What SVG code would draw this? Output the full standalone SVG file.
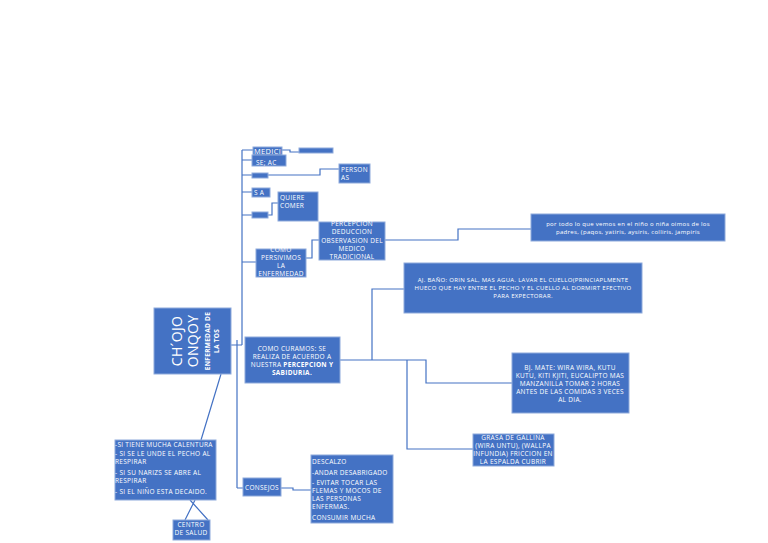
<svg xmlns="http://www.w3.org/2000/svg" width="768" height="543" viewBox="0 0 768 543">
<style>
.n{fill:#4472c4;stroke:#8eaadb;stroke-width:1}
.t{font-family:"Open Sans","Liberation Sans",sans-serif;fill:#fff;font-size:6.5px;letter-spacing:0.3px}
.c{text-anchor:middle}
.l{fill:none;stroke:#4472c4;stroke-width:1.2}
</style>
<rect width="768" height="543" fill="#fff"/>
<g id="connectors">
<path class="l" d="M242 150V345 M237 340V488 M242 150H253 M242 160H252 M242 175H252 M242 192H252 M242 215H252 M242 262H256 M282 150H290V152H299 M268 175H320V169H339 M268 215H272V203H278 M306 258H312V240H319 M385 240H458V229H531 M231 345H242 M340 360H426V383H512 M372 360V289H404 M407 360V449H473 M221 374L201 440 M237 488H243 M281 488H293V490H311 M195 500L185 520 M190 500L208 520"/>
</g>
<g id="main"><rect class="n" x="154" y="308" width="77" height="66"/>
<text class="t" transform="translate(182 341) rotate(-90)" text-anchor="middle" style="font-size:14px">CH´OJO</text>
<text class="t" transform="translate(198 341) rotate(-90)" text-anchor="middle" style="font-size:14px">ONQOY</text>
<text class="t" transform="translate(210 341) rotate(-90)" text-anchor="middle" font-weight="bold">ENFERMEDAD DE</text>
<text class="t" transform="translate(219 341) rotate(-90)" text-anchor="middle" font-weight="bold">LA TOS</text></g>
<g id="n1"><rect class="n" x="253" y="147" width="29" height="8"/><text class="t" x="254" y="154" style="font-size:7.5px">MEDICI</text></g>
<g id="n1b"><rect class="n" x="299" y="148" width="34" height="5"/></g>
<g id="n2"><rect class="n" x="252" y="155" width="34" height="11"/><text class="t" x="256" y="165">SE; AC</text></g>
<g id="n3"><rect class="n" x="252" y="173" width="16" height="5"/></g>
<g id="n3b"><rect class="n" x="339" y="164" width="31" height="19"/><text class="t" x="341" y="172">PERSON</text><text class="t" x="341" y="180">AS</text></g>
<g id="n4"><rect class="n" x="252" y="188" width="18" height="9"/><text class="t" x="254" y="195">S A</text></g>
<g id="n5"><rect class="n" x="252" y="212" width="16" height="6"/></g>
<g id="n5b"><rect class="n" x="278" y="192" width="40" height="29"/><text class="t" x="280" y="200">QUIERE</text><text class="t" x="280" y="208">COMER</text></g>
<g id="n6"><rect class="n" x="319" y="222" width="66" height="38"/><text class="t c" x="352" y="226">PERCEPCION</text><text class="t c" x="352" y="234">DEDUCCION</text><text class="t c" x="352" y="243">OBSERVASION DEL</text><text class="t c" x="352" y="251">MEDICO</text><text class="t c" x="352" y="259">TRADICIONAL</text></g>
<g id="n7"><rect class="n" x="256" y="249" width="50" height="28"/><text class="t c" x="281" y="252">COMO</text><text class="t c" x="281" y="260">PERSIVIMOS</text><text class="t c" x="281" y="268">LA</text><text class="t c" x="281" y="276">ENFERMEDAD</text></g>
<g id="n8"><rect class="n" x="531" y="214" width="194" height="27"/><text class="t c" x="628" y="226" style="font-size:6px">por todo lo que vemos en el niño o niña oimos de los</text><text class="t c" x="628" y="234" style="font-size:6px">padres, (paqos, yatiris, aysiris, colliris, jampiris</text></g>
<g id="n9"><rect class="n" x="404" y="263" width="238" height="50"/><text class="t c" x="523" y="282" style="font-size:6px">AJ. BAÑO: ORIN SAL, MAS AGUA. LAVAR EL CUELLO(PRINCIAPLMENTE</text><text class="t c" x="523" y="290" style="font-size:6px">HUECO QUE HAY ENTRE EL PECHO Y EL CUELLO AL DORMIRT EFECTIVO</text><text class="t c" x="523" y="298" style="font-size:6px">PARA EXPECTORAR.</text></g>
<g id="n10"><rect class="n" x="245" y="337" width="95" height="46"/><text class="t c" x="292" y="351">COMO CURAMOS: SE</text><text class="t c" x="292" y="359">REALIZA DE ACUERDO A</text><text class="t c" x="292" y="367">NUESTRA <tspan font-weight="bold">PERCEPCION Y</tspan></text><text class="t c" x="292" y="375" font-weight="bold">SABIDURIA.</text></g>
<g id="n11"><rect class="n" x="512" y="353" width="117" height="60"/><text class="t c" x="570" y="370">BJ. MATE: WIRA WIRA, KUTU</text><text class="t c" x="570" y="378">KUTU, KITI KJITI, EUCALIPTO MAS</text><text class="t c" x="570" y="386">MANZANILLA TOMAR 2 HORAS</text><text class="t c" x="570" y="394">ANTES DE LAS COMIDAS 3 VECES</text><text class="t c" x="570" y="402">AL DIA.</text></g>
<g id="n12"><rect class="n" x="473" y="434" width="81" height="32"/><text class="t c" x="513" y="440">GRASA DE GALLINA</text><text class="t c" x="513" y="448">(WIRA UNTU), (WALLPA</text><text class="t c" x="513" y="456">INFUNDIA) FRICCION EN</text><text class="t c" x="513" y="464">LA ESPALDA CUBRIR</text></g>
<g id="n13"><rect class="n" x="115" y="440" width="101" height="60"/><text class="t" x="115" y="447">-SI TIENE MUCHA CALENTURA</text><text class="t" x="115" y="456">- SI SE LE UNDE EL PECHO AL</text><text class="t" x="115" y="464">RESPIRAR</text><text class="t" x="115" y="475">- SI SU NARIZS SE ABRE AL</text><text class="t" x="115" y="483">RESPIRAR</text><text class="t" x="115" y="494">- SI EL NIÑO ESTA DECAIDO.</text></g>
<g id="n14"><rect class="n" x="173" y="520" width="37" height="20"/><text class="t c" x="191" y="527">CENTRO</text><text class="t c" x="191" y="535">DE SALUD</text></g>
<g id="n15"><rect class="n" x="243" y="478" width="38" height="18"/><text class="t c" x="262" y="490">CONSEJOS</text></g>
<g id="n16"><rect class="n" x="311" y="455" width="82" height="68"/><text class="t" x="312" y="464">DESCALZO</text><text class="t" x="312" y="475">-ANDAR DESABRIGADO</text><text class="t" x="312" y="485">- EVITAR TOCAR LAS</text><text class="t" x="312" y="493">FLEMAS Y MOCOS DE</text><text class="t" x="312" y="501">LAS PERSONAS</text><text class="t" x="312" y="509">ENFERMAS.</text><text class="t" x="312" y="520">CONSUMIR MUCHA</text></g>
</svg>
